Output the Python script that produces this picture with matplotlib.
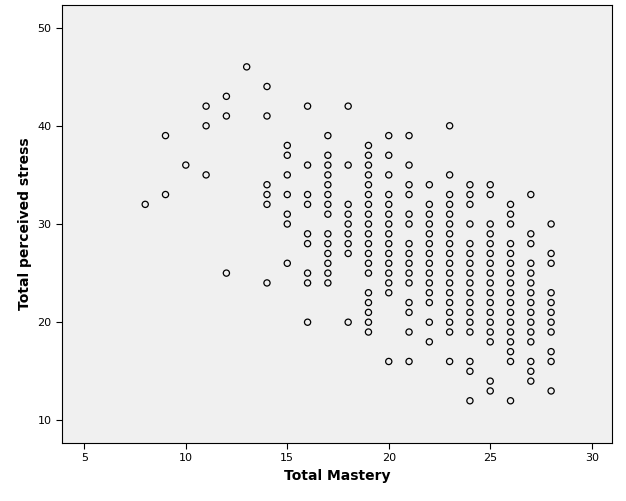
import numpy as np
import matplotlib.pyplot as plt

# stress values by mastery score
columns = {
    8: [32],
    9: [39, 33],
    10: [36],
    11: [42, 40, 35],
    12: [43, 41, 25],
    13: [46],
    14: [44, 41, 34, 33, 32, 24],
    15: [38, 37, 35, 33, 31, 30, 26],
    16: [42, 36, 33, 32, 29, 28, 25, 24, 20],
    17: [39, 37, 36, 35, 34, 33, 32, 31, 29, 28, 27, 26, 25, 24],
    18: [42, 36, 32, 31, 30, 29, 28, 27, 20],
    19: [38, 37, 36, 35, 34, 33, 32, 31, 30, 29, 28, 27, 26, 25, 23, 22, 21, 20, 19],
    20: [39, 37, 35, 33, 32, 31, 30, 29, 28, 27, 26, 25, 24, 23, 16],
    21: [39, 36, 34, 33, 31, 30, 28, 27, 26, 25, 24, 22, 21, 19, 16],
    22: [34, 32, 31, 30, 29, 28, 27, 26, 25, 24, 23, 22, 20, 18],
    23: [40, 35, 33, 32, 31, 30, 29, 28, 27, 26, 25, 24, 23, 22, 21, 20, 19, 16],
    24: [34, 33, 32, 30, 28, 27, 26, 25, 24, 23, 22, 21, 20, 19, 16, 15, 12],
    25: [34, 33, 30, 29, 28, 27, 26, 25, 24, 23, 22, 21, 20, 19, 18, 14, 13],
    26: [32, 31, 30, 28, 27, 26, 25, 24, 23, 22, 21, 20, 19, 18, 17, 16, 12],
    27: [33, 29, 28, 26, 25, 24, 23, 22, 21, 20, 19, 18, 16, 15, 14],
    28: [30, 27, 26, 23, 22, 21, 20, 19, 17, 16, 13],
}
mastery = np.array([m for m, ys in columns.items() for _ in ys])
stress = np.array([s for ys in columns.values() for s in ys])

fig = plt.figure(figsize=(6.26, 5.01), dpi=100)
ax = fig.add_axes([62/626, 58/501, 550/626, 438/501])
ax.set_facecolor('#f0f0f0')
ax.scatter(mastery, stress, s=20, facecolors='none', edgecolors='black', linewidths=0.9)
ax.set_xlim(3.9, 31.0)
ax.set_ylim(7.7, 52.3)
ax.set_xticks([5, 10, 15, 20, 25, 30])
ax.set_yticks([10, 20, 30, 40, 50])
ax.tick_params(labelsize=8, length=4)
ax.set_xlabel('Total Mastery', fontsize=10, fontweight='bold')
ax.set_ylabel('Total perceived stress', fontsize=10, fontweight='bold')
fig.savefig('out.png')
